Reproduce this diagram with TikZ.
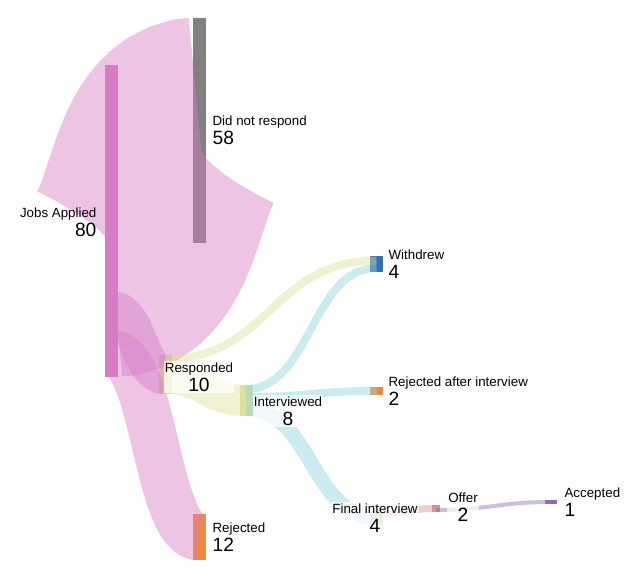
\documentclass[tikz,border=0pt]{standalone}
\usepackage{fontspec}
\setmainfont{Liberation Sans}
\usepackage{tikz}
\usetikzlibrary{positioning}
\definecolor{jobpink}{HTML}{D67CC4}
\definecolor{nogray}{HTML}{808080}
\definecolor{rejorange}{HTML}{EF8A3C}
\definecolor{respyellow}{HTML}{DDE09A}
\definecolor{intcyan}{HTML}{8FD3DF}
\definecolor{wdblue}{HTML}{3470B5}
\definecolor{figreen}{HTML}{B5DCA0}
\definecolor{offred}{HTML}{D9928F}
\definecolor{accpurple}{HTML}{8E6BB8}

\begin{document}
\begin{tikzpicture}[x=0.75pt, y=-0.75pt,
	bar/.style={draw=none, fill=#1, inner sep=0pt, minimum width=13*0.75pt},
	flow/.style={draw=#1, draw opacity=0.45},
	lbl/.style={inner sep=1pt, font=\fontsize{10}{14}\selectfont},
	mid/.style={lbl, fill=white, fill opacity=0.7, text opacity=1, align=center}
]
\useasboundingbox (0,0) rectangle (640,580);

% bars
\node[bar=jobpink,   minimum height=312*0.75pt] (ja)   at (111.5,221)   {};
\node[bar=nogray,    minimum height=225*0.75pt] (dnr)  at (199.5,130.5) {};
\node[bar=rejorange, minimum height=46*0.75pt]  (rej)  at (199.5,537)   {};
\node[bar=respyellow,minimum height=39*0.75pt]  (resp) at (165,374.5)   {};
\node[bar=respyellow,minimum height=31*0.75pt]  (intv) at (246,400.5)   {};
\node[bar=wdblue,    minimum height=16*0.75pt]  (wd)   at (376.5,264)   {};
\node[bar=rejorange, minimum height=8*0.75pt]   (rai)  at (376.5,391)   {};
\node[bar=figreen,   minimum height=15*0.75pt]  (fi)   at (376.5,517.5) {};
\node[bar=offred,    minimum height=7*0.75pt, minimum width=8*0.75pt] (off) at (436,508.5) {};
\node[bar=accpurple, minimum height=4*0.75pt, minimum width=12*0.75pt] (acc) at (551,502) {};

% flows
\draw[flow=jobpink, line width=226*0.75pt] ([yshift=-43*0.75pt]ja.center) .. controls +(44,0) and +(-44,0) .. (dnr.center);
\draw[flow=jobpink, line width=39*0.75pt] ([yshift=-89.5*0.75pt]ja.center) .. controls +(27,0) and +(-27,0) .. (resp.center);
\draw[flow=jobpink, line width=47*0.75pt] ([yshift=-132.5*0.75pt]ja.center) .. controls +(44,0) and +(-44,0) .. (rej.center);
\draw[flow=respyellow, line width=8*0.75pt] ([yshift=15.5*0.75pt]resp.center) .. controls +(105,0) and +(-105,0) .. ([yshift=3.5*0.75pt]wd.center);
\draw[flow=respyellow, line width=31*0.75pt] ([yshift=-4*0.75pt]resp.center) .. controls +(40,0) and +(-40,0) .. (intv.center);
\draw[flow=intcyan, line width=8*0.75pt] ([yshift=11.5*0.75pt]intv.center) .. controls +(65,0) and +(-65,0) .. ([yshift=-4*0.75pt]wd.center);
\draw[flow=intcyan, line width=8*0.75pt] ([yshift=3.5*0.75pt]intv.center) .. controls +(65,0) and +(-65,0) .. (rai.center);
\draw[flow=intcyan, line width=15*0.75pt] ([yshift=-8*0.75pt]intv.center) .. controls +(65,0) and +(-65,0) .. (fi.center);
\draw[flow=offred, line width=7*0.75pt] ([yshift=3.5*0.75pt]fi.center) .. controls +(28,0) and +(-28,0) .. (off.center);
\draw[flow=accpurple, line width=4*0.75pt] ([yshift=-1.5*0.75pt]off.center) .. controls +(52,0) and +(-52,0) .. (acc.center);

% labels
\node[lbl, anchor=east, align=right] (jal) at (98,222) {Jobs Applied\\{\Large 80}};
\node[lbl, anchor=west, align=left] (dnrl) at (211,130) {Did not respond\\{\Large 58}};
\node[lbl, anchor=west, align=left] (rejl) at (211,537) {Rejected\\{\Large 12}};
\node[lbl, anchor=west, align=left] (wdl) at (387,264) {Withdrew\\{\Large 4}};
\node[lbl, anchor=west, align=left] (rail) at (387,391) {Rejected after interview\\{\Large 2}};
\node[lbl, anchor=west, align=left] (accl) at (563,502) {Accepted\\{\Large 1}};
\node[mid] (respl) at (199,377) {Responded\\{\Large 10}};
\node[mid] (intvl) at (288,411) {Interviewed\\{\Large 8}};
\node[mid] (fil) at (375,518) {Final interview\\{\Large 4}};
\node[mid] (offl) at (463,507) {Offer\\{\Large 2}};
\end{tikzpicture}
\end{document}
